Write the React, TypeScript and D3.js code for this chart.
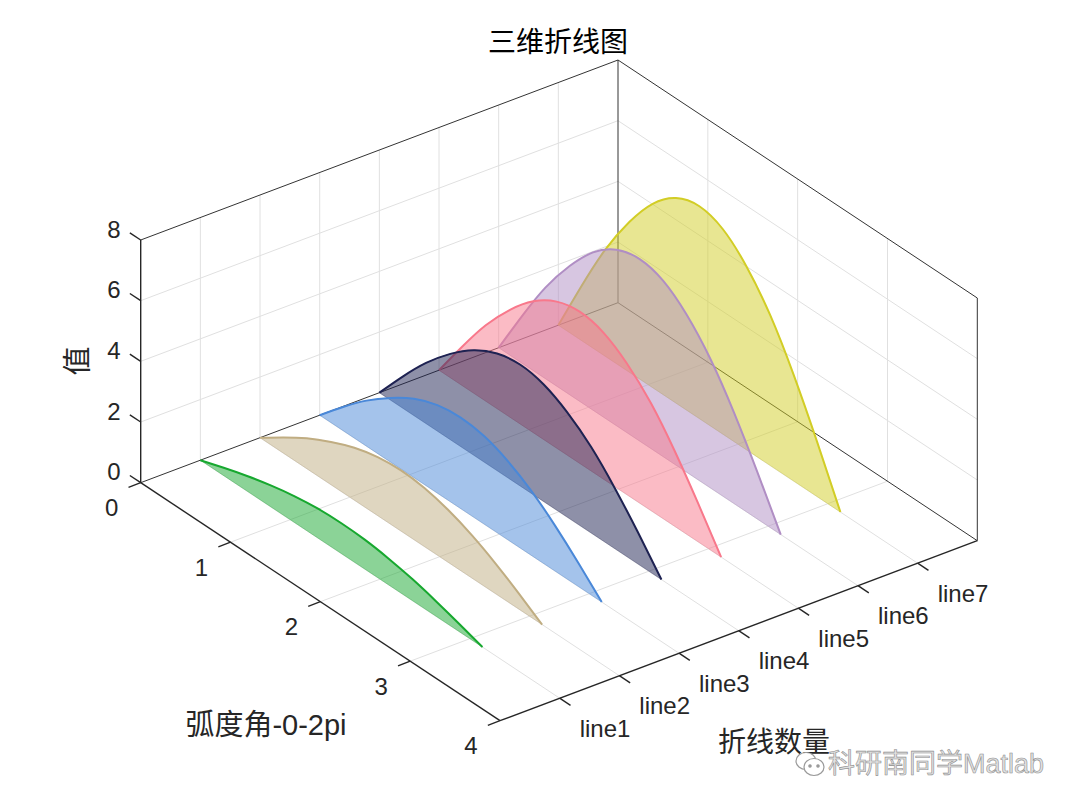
import * as d3 from 'd3';

// 弧度角采样点 (0 ~ pi)
const xValues = [0, 0.26, 0.52, 0.79, 1.05, 1.31, 1.57, 1.83, 2.09, 2.36, 2.62, 2.88, 3.14];

// 每条折线的值
const line1 = [0, 0.26, 0.5, 0.71, 0.87, 0.97, 1, 0.97, 0.87, 0.71, 0.5, 0.26, 0];
const line2 = [0, 0.52, 1, 1.41, 1.73, 1.93, 2, 1.93, 1.73, 1.41, 1, 0.52, 0];
const line3 = [0, 0.78, 1.5, 2.12, 2.6, 2.9, 3, 2.9, 2.6, 2.12, 1.5, 0.78, 0];
const line4 = [0, 1.04, 2, 2.83, 3.46, 3.86, 4, 3.86, 3.46, 2.83, 2, 1.04, 0];
const line5 = [0, 1.29, 2.5, 3.54, 4.33, 4.83, 5, 4.83, 4.33, 3.54, 2.5, 1.29, 0];
const line6 = [0, 1.55, 3, 4.24, 5.2, 5.8, 6, 5.8, 5.2, 4.24, 3, 1.55, 0];
const line7 = [0, 1.81, 3.5, 4.95, 6.06, 6.76, 7, 6.76, 6.06, 4.95, 3.5, 1.81, 0];

const series = [line1, line2, line3, line4, line5, line6, line7];
const categories = ['line1', 'line2', 'line3', 'line4', 'line5', 'line6', 'line7'];
const yPositions = [1, 2, 3, 4, 5, 6, 7];

const xTicks = [0, 1, 2, 3, 4];
const zTicks = [0, 2, 4, 6, 8];

const palette = ['#17a82f', '#c0ad82', '#4a88d8', '#1e2252', '#f8788b', '#b08ec4', '#d2cd26'];

const width = 1080;
const height = 810;

// 投影: 把归一化盒子坐标映射到屏幕
const origin = [140.7, 482.7];
const ex = [359.3, 238];
const ey = [477.3, -180];
const ez = [0, -242.7];

const xScale = d3.scaleLinear().domain([0, 4]).range([0, 1]);
const yScale = d3.scaleLinear().domain([0, 8]).range([0, 1]);
const zScale = d3.scaleLinear().domain([0, 8]).range([0, 1]);

function proj(x: number, y: number, z: number): [number, number] {
    const u = xScale(x);
    const v = yScale(y);
    const w = zScale(z);
    return [origin[0] + u * ex[0] + v * ey[0] + w * ez[0], origin[1] + u * ex[1] + v * ey[1] + w * ez[1]];
}

const seg = (a: [number, number], b: [number, number]) => `M${a[0]},${a[1]}L${b[0]},${b[1]}`;

const latin = "'Liberation Sans', Arial, 'Noto Sans CJK SC', sans-serif";
const cjk = "'Liberation Sans', 'Noto Sans CJK SC', sans-serif";
const textColor = '#262626';

export default function App() {
    const curve = d3
        .line<[number, number]>()
        .x((d) => d[0])
        .y((d) => d[1])
        .curve(d3.curveNatural);

    // 网格线
    const grid: string[] = [];
    [2, 4, 6].forEach((z) => {
        grid.push(seg(proj(0, 0, z), proj(0, 8, z)));
        grid.push(seg(proj(0, 8, z), proj(4, 8, z)));
    });
    yPositions.forEach((y) => {
        grid.push(seg(proj(0, y, 0), proj(0, y, 8)));
        grid.push(seg(proj(0, y, 0), proj(4, y, 0)));
    });
    [1, 2, 3].forEach((x) => {
        grid.push(seg(proj(x, 8, 0), proj(x, 8, 8)));
        grid.push(seg(proj(x, 0, 0), proj(x, 8, 0)));
    });

    // 背面框线
    const back = [
        seg(proj(0, 0, 8), proj(0, 8, 8)),
        seg(proj(0, 8, 8), proj(4, 8, 8)),
        seg(proj(0, 8, 0), proj(0, 8, 8)),
        seg(proj(4, 8, 0), proj(4, 8, 8)),
        seg(proj(0, 0, 0), proj(0, 8, 0)),
        seg(proj(0, 8, 0), proj(4, 8, 0)),
    ];
    const axes = [
        seg(proj(0, 0, 0), proj(4, 0, 0)),
        seg(proj(4, 0, 0), proj(4, 8, 0)),
        seg(proj(0, 0, 0), proj(0, 0, 8)),
    ];

    const tickLen = 13;
    const exN = Math.hypot(ex[0], ex[1]);
    const eyN = Math.hypot(ey[0], ey[1]);
    const tx = [(ex[0] / exN) * tickLen, (ex[1] / exN) * tickLen];
    const ty = [(ey[0] / eyN) * tickLen, (ey[1] / eyN) * tickLen];

    // 从远到近绘制
    const order = d3.range(series.length).reverse();

    return (
        <svg
            width={width}
            height={height}
            viewBox={`0 0 ${width} ${height}`}
            style={{ position: 'absolute', left: 0, top: 0, background: '#fff' }}
        >
            <rect width={width} height={height} fill='#fff' />
            <g stroke='#e0e0e0' strokeWidth={1} fill='none'>
                {grid.map((d, i) => (
                    <path key={i} d={d} />
                ))}
            </g>
            <g stroke='#333' strokeWidth={1} fill='none'>
                {back.map((d, i) => (
                    <path key={i} d={d} />
                ))}
            </g>
            <g stroke={textColor} strokeWidth={1.4} fill='none'>
                {axes.map((d, i) => (
                    <path key={i} d={d} />
                ))}
                {zTicks.map((z) => {
                    const p = proj(0, 0, z);
                    return <path key={'z' + z} d={`M${p[0]},${p[1]}l${-tx[0]},${-tx[1]}`} />;
                })}
                {xTicks.map((x) => {
                    const p = proj(x, 0, 0);
                    return <path key={'x' + x} d={`M${p[0]},${p[1]}l${-ty[0]},${-ty[1]}`} />;
                })}
                {yPositions.map((y) => {
                    const p = proj(4, y, 0);
                    return <path key={'y' + y} d={`M${p[0]},${p[1]}l${tx[0]},${tx[1]}`} />;
                })}
            </g>

            {order.map((i) => {
                const y = yPositions[i];
                const pts = xValues.map((x, j) => proj(x, y, series[i][j]));
                const top = curve(pts) as string;
                const a = proj(xValues[xValues.length - 1], y, 0);
                const b = proj(xValues[0], y, 0);
                const area = `${top}L${a[0]},${a[1]}L${b[0]},${b[1]}Z`;
                return (
                    <g key={categories[i]}>
                        <path d={area} fill={palette[i]} fillOpacity={0.5} stroke={palette[i]} strokeOpacity={0.35} strokeWidth={0.8} />
                        <path d={top} fill='none' stroke={palette[i]} strokeWidth={2} />
                    </g>
                );
            })}

            <g fill={textColor} fontFamily={latin} fontSize={24}>
                {zTicks.map((z) => {
                    const p = proj(0, 0, z);
                    return (
                        <text key={'zl' + z} x={p[0] - 20} y={p[1] - 11} textAnchor='end' dominantBaseline='central'>
                            {z}
                        </text>
                    );
                })}
                {xTicks.map((x) => {
                    const p = proj(x, 0, 0);
                    return (
                        <text key={'xl' + x} x={p[0] - 29} y={p[1] + 25} textAnchor='middle' dominantBaseline='central'>
                            {x}
                        </text>
                    );
                })}
                {yPositions.map((y, i) => {
                    const p = proj(4, y, 0);
                    return (
                        <text key={'yl' + y} x={p[0] + 20} y={p[1] + 30} textAnchor='start' dominantBaseline='central'>
                            {categories[i]}
                        </text>
                    );
                })}
            </g>

            <text x={558} y={42} textAnchor='middle' dominantBaseline='central' fontFamily={cjk} fontSize={28} fill='#000'>
                三维折线图
            </text>
            <text x={266} y={725} textAnchor='middle' dominantBaseline='central' fontFamily={cjk} fontSize={29} fill={textColor}>
                弧度角-0-2pi
            </text>
            <text x={774} y={742} textAnchor='middle' dominantBaseline='central' fontFamily={cjk} fontSize={28} fill={textColor}>
                折线数量
            </text>
            <text
                x={78}
                y={361}
                textAnchor='middle'
                dominantBaseline='central'
                fontFamily={cjk}
                fontSize={29}
                fill={textColor}
                transform='rotate(-90, 78, 361)'
            >
                值
            </text>

            {/* 水印 */}
            <g fill='none' stroke='#9a9a9a' strokeWidth={1.2}>
                <ellipse cx={806} cy={761} rx={10} ry={8.5} fill='#fff' />
                <ellipse cx={814} cy={767} rx={10} ry={8.5} fill='#fff' />
                <circle cx={810} cy={766} r={1.2} fill='#9a9a9a' />
                <circle cx={818} cy={766} r={1.2} fill='#9a9a9a' />
            </g>
            <text
                x={828}
                y={764}
                dominantBaseline='central'
                fontFamily={cjk}
                fontSize={27}
                fill='#e2e2e2'
                stroke='#8f8f8f'
                strokeWidth={0.6}
            >
                科研南同学Matlab
            </text>
        </svg>
    );
}
